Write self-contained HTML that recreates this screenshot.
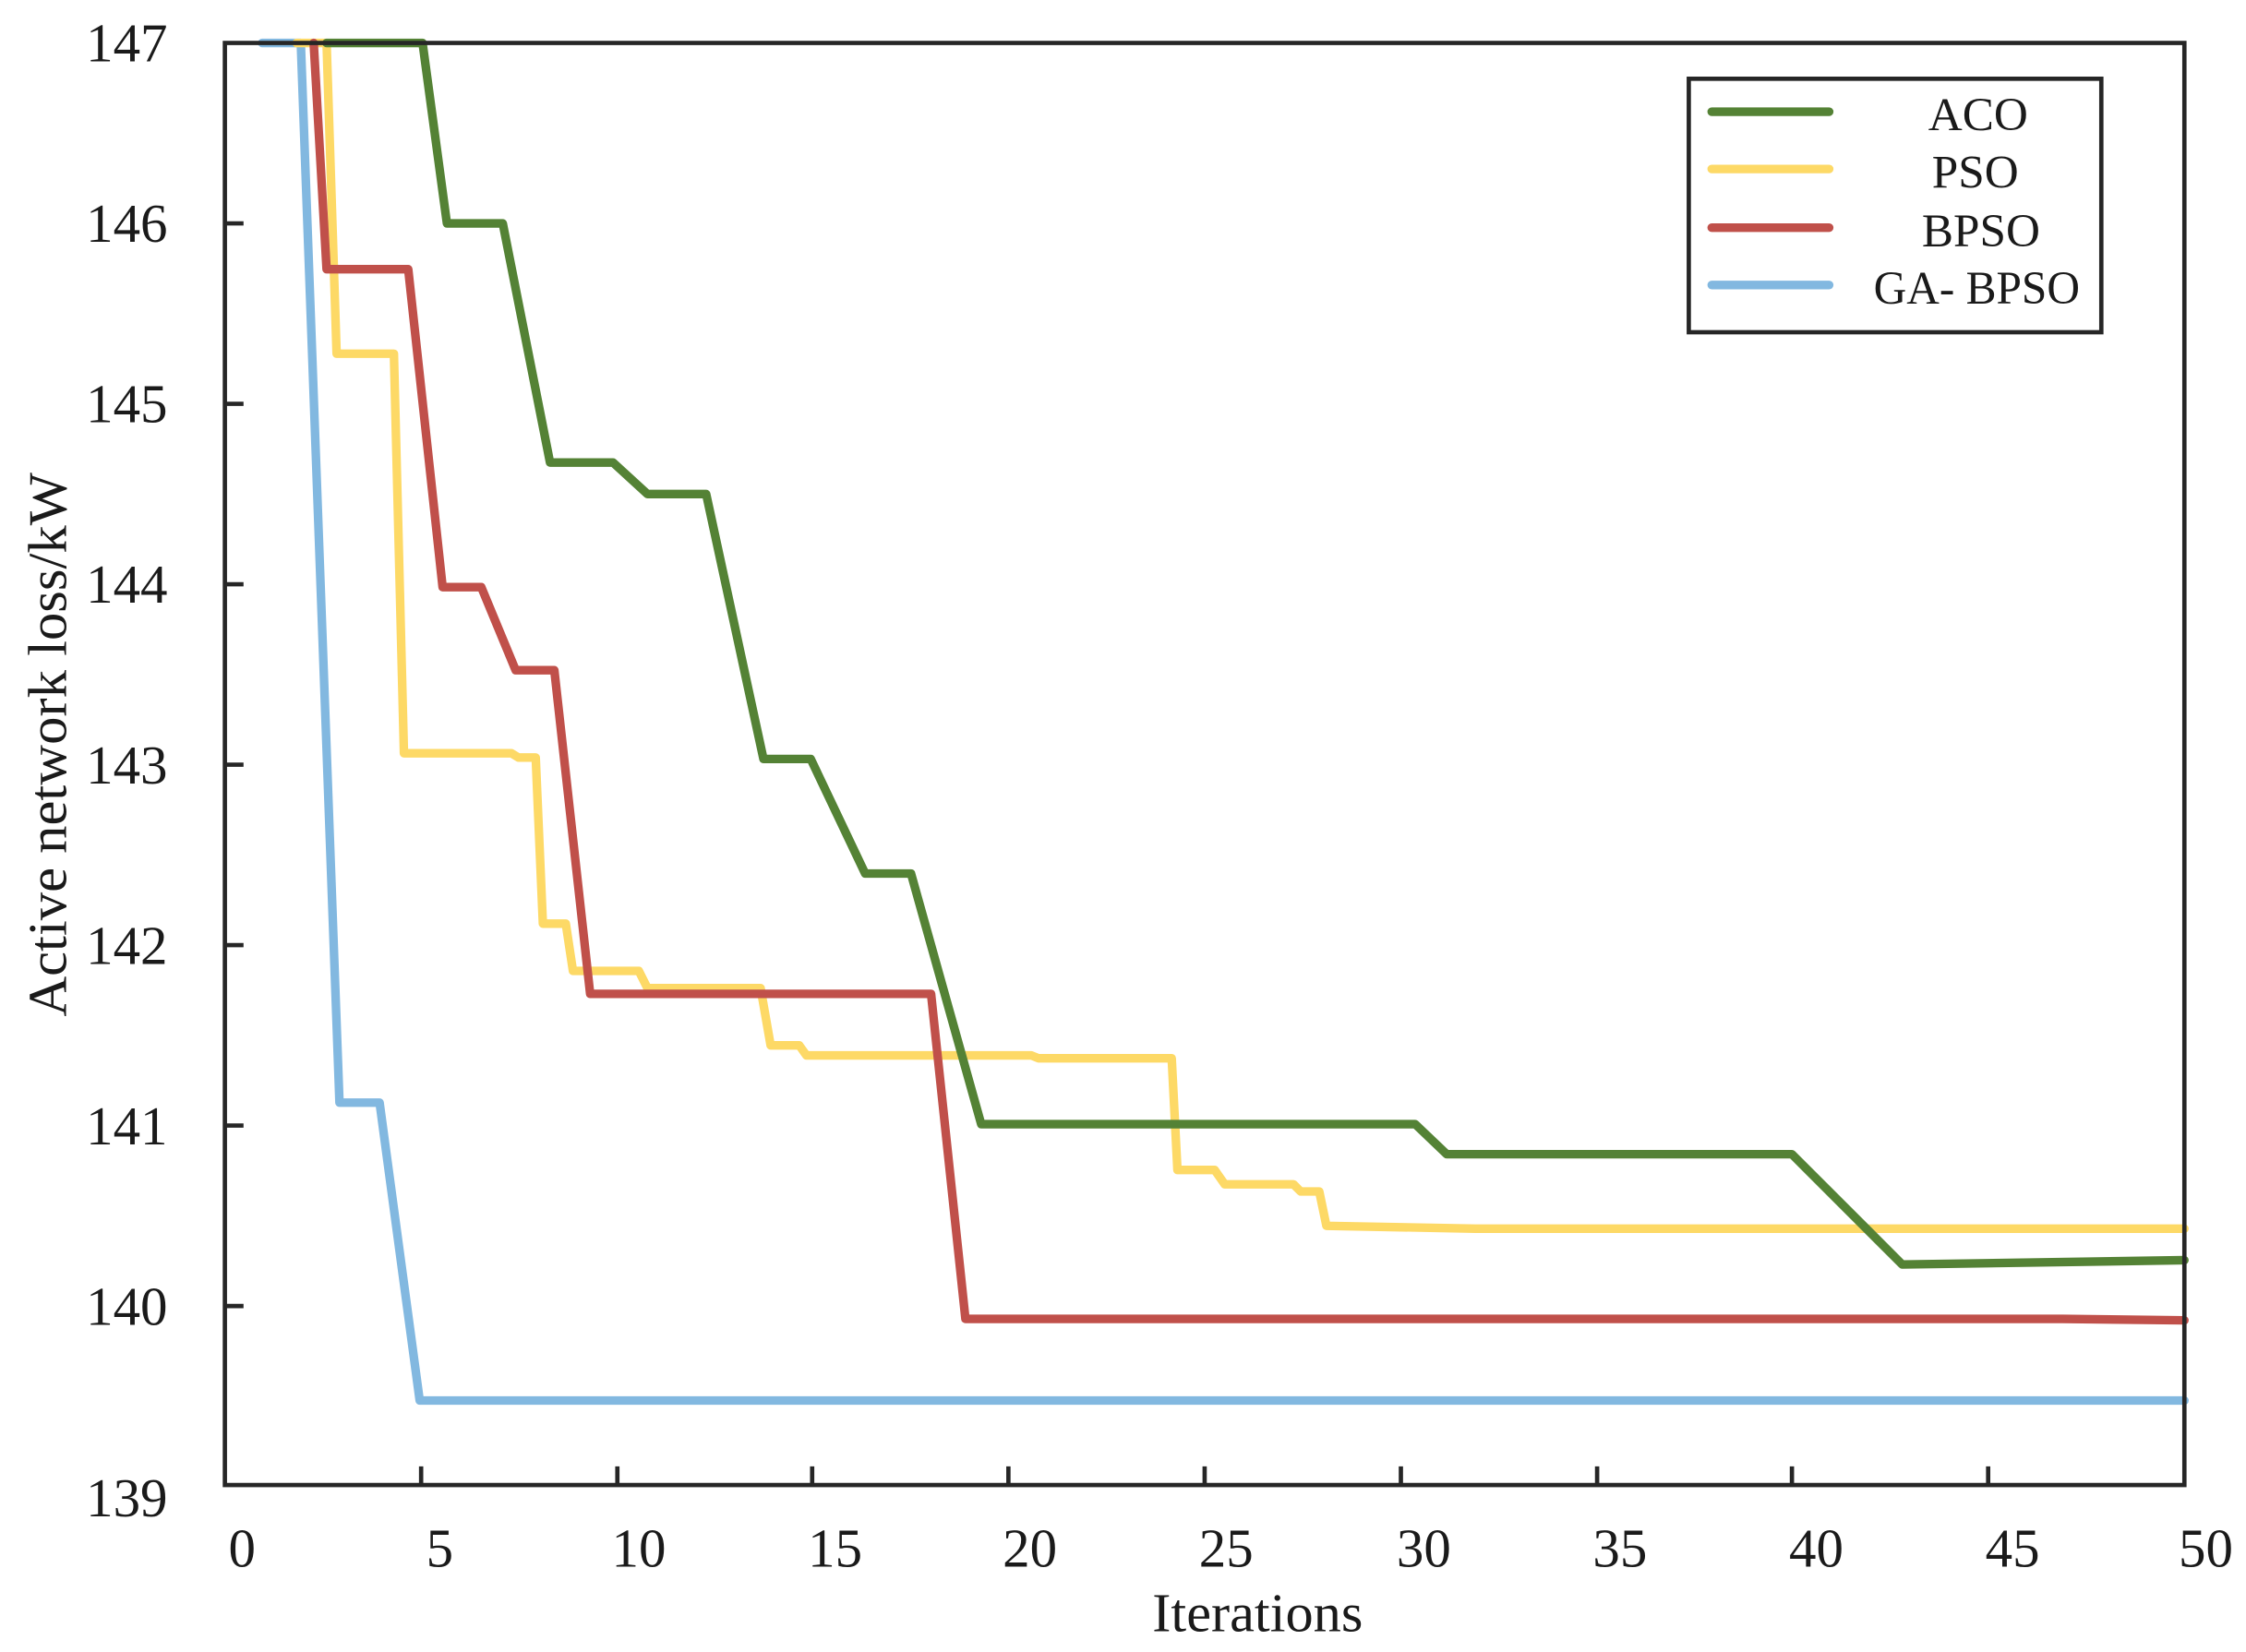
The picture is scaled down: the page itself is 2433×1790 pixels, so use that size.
<!DOCTYPE html>
<html><head><meta charset="utf-8"><style>
html,body{margin:0;padding:0;background:#fff;}
svg{display:block;}
text{font-family:"Liberation Serif",serif;fill:#1a1a1a;}
</style></head><body>
<svg width="2433" height="1790" viewBox="0 0 1568 1153.6" xmlns="http://www.w3.org/2000/svg">
<g fill="none" stroke-linejoin="round" stroke-linecap="round" stroke-width="6">
<polyline stroke="#82b8e0" points="183,30 210,30 237,770 265,770 293,978 1525,978"/>
<polyline stroke="#fdd966" points="207,30 228,30 235,247 275,247 282,526 357,526 362,529 374,529 379,645 395,645 400,678 446,678 452,690 531,690 538,730 558,730 563,737 720,737 725,739 818,739 822,817 848,817 855,827 903,827 908,832 921,832 926,856 1030,858 1525,858"/>
<polyline stroke="#c0504a" points="219,30 228,188 285,188 309,410 336,410 360,468 387,468 412,694 650,694 674,921 1440,921 1525,922"/>
<polyline stroke="#548235" points="228,30 295,30 312,156 351,156 384,323 428,323 452,345 493,345 533,530 566,530 604,610 636,610 685,785 988,785 1010,806 1251,806 1328,883 1525,880"/>
</g>
<g stroke="#262626" stroke-width="3" fill="none">
<rect x="157" y="30" width="1368" height="1007"/>
<path d="M157 156h13M157 282h13M157 408h13M157 534h13M157 660h13M157 786h13M157 912h13"/>
<path d="M294 1037v-13M431 1037v-13M567 1037v-13M704 1037v-13M841 1037v-13M978 1037v-13M1115 1037v-13M1251 1037v-13M1388 1037v-13"/>
</g>
<g font-size="38" text-anchor="end">
<text x="117" y="43">147</text><text x="117" y="169">146</text><text x="117" y="295">145</text>
<text x="117" y="421">144</text><text x="117" y="547">143</text><text x="117" y="673">142</text>
<text x="117" y="799">141</text><text x="117" y="925">140</text><text x="117" y="1059">139</text>
</g>
<g font-size="38" text-anchor="middle">
<text x="169" y="1094">0</text><text x="307" y="1094">5</text><text x="446" y="1094">10</text>
<text x="583" y="1094">15</text><text x="719" y="1094">20</text><text x="856" y="1094">25</text>
<text x="994" y="1094">30</text><text x="1131" y="1094">35</text><text x="1268" y="1094">40</text>
<text x="1405" y="1094">45</text><text x="1540" y="1094">50</text>
<text x="878" y="1139" textLength="147" lengthAdjust="spacingAndGlyphs">Iterations</text>
<text transform="translate(46,520) rotate(-90)" textLength="380" lengthAdjust="spacingAndGlyphs">Active network loss/kW</text>
</g>
<rect x="1179" y="55" width="288" height="177" fill="#fff" stroke="#262626" stroke-width="3"/>
<g stroke-width="6" stroke-linecap="round">
<line x1="1195" y1="78" x2="1277" y2="78" stroke="#548235"/>
<line x1="1195" y1="118" x2="1277" y2="118" stroke="#fdd966"/>
<line x1="1195" y1="159" x2="1277" y2="159" stroke="#c0504a"/>
<line x1="1195" y1="199" x2="1277" y2="199" stroke="#82b8e0"/>
</g>
<g font-size="33" text-anchor="middle">
<text x="1381" y="91">ACO</text><text x="1379" y="131">PSO</text>
<text x="1383" y="172">BPSO</text><text x="1380" y="212" textLength="144" lengthAdjust="spacingAndGlyphs">GA- BPSO</text>
</g>
</svg>
</body></html>
